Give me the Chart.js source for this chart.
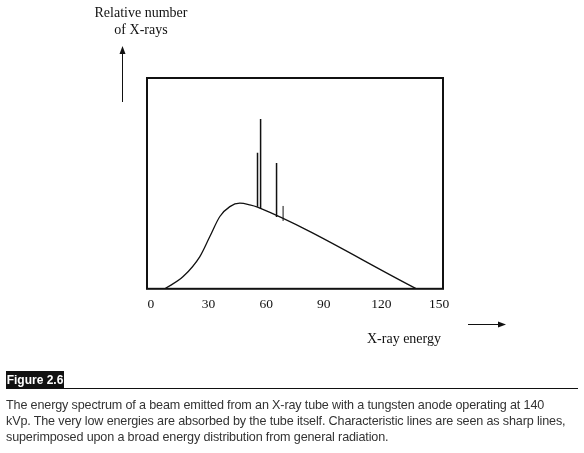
<!DOCTYPE html>
<html>
<head>
<meta charset="utf-8">
<script src="https://cdn.jsdelivr.net/npm/chart.js@4"></script>
<style>
  body { margin: 0; background: #fff; width: 584px; height: 453px; position: relative; overflow: hidden; }
  #wrap { position: absolute; left: 0; top: 0; width: 584px; height: 453px; }
  .serif { position: absolute; font-family: "Liberation Serif", "DejaVu Serif", serif; font-size: 14px; color: #111; }
  .cap { position: absolute; left: 6px; top: 397px; width: 578px; white-space: nowrap; font-family: "Liberation Sans", Arial, sans-serif; font-size: 12.6px; line-height: 16px; color: #333; letter-spacing: -0.15px; }
  .fig { position: absolute; left: 6px; top: 371px; width: 58px; height: 18px; background: #111; color: #fff; font-family: "Liberation Sans Narrow", "Liberation Sans", sans-serif; font-weight: bold; font-size: 12px; line-height: 18px; text-align: center; }
  .rule { position: absolute; left: 6px; top: 388px; width: 572px; height: 1px; background: #111; }
</style>
</head>
<body>
<div id="wrap"><canvas id="spectrum" width="584" height="453"></canvas></div>
<div class="serif" style="left:82px; top:4px; width:118px; text-align:center; line-height:17px;">Relative number<br>of X-rays</div>
<div class="serif" style="left:367px; top:331px;">X-ray energy</div>
<div class="fig">Figure 2.6</div>
<div class="rule"></div>
<div class="cap">The energy spectrum of a beam emitted from an X-ray tube with a tungsten anode operating at 140<br>kVp. The very low energies are absorbed by the tube itself. Characteristic lines are seen as sharp lines,<br>superimposed upon a broad energy distribution from general radiation.</div>
<script>
// continuous (bremsstrahlung) curve
const energies = [7.3, 16.8, 25.5, 30.7, 35.9, 41.1, 46.3, 51.5, 55.5, 138.2];
const counts   = [0, 5.8, 15.3, 24.8, 34.3, 39.0, 40.6, 39.8, 38.7, 0];

// characteristic lines
const lineEnergy = [55.5, 57.1, 65.4, 68.8];
const lineBase   = [38.9, 37.9, 34.1, 32.2];
const lineTop    = [64.5, 80.6, 59.7, 39.3];

const xTicks = [0, 30, 60, 90, 120, 150];

const datasets = [{
  data: energies.map((e, i) => ({ x: e, y: counts[i] })),
  borderColor: '#111',
  borderWidth: 1.3,
  pointRadius: 0,
  cubicInterpolationMode: 'monotone',
  fill: false
}];
lineEnergy.forEach((e, i) => {
  datasets.push({
    data: [{ x: e, y: lineBase[i] }, { x: e, y: lineTop[i] }],
    borderColor: '#111',
    borderWidth: i === 3 ? 1 : 1.5,
    pointRadius: 0
  });
});

const boxAndArrows = {
  id: 'boxAndArrows',
  afterDraw(chart) {
    const { ctx, chartArea: a } = chart;
    ctx.save();
    ctx.strokeStyle = '#111';
    ctx.lineWidth = 2;
    ctx.strokeRect(a.left, a.top, a.right - a.left, a.bottom - a.top);
    ctx.lineWidth = 1;
    // up arrow
    ctx.beginPath(); ctx.moveTo(122.5, 102); ctx.lineTo(122.5, 50); ctx.stroke();
    ctx.beginPath(); ctx.moveTo(122.5, 46); ctx.lineTo(119.5, 54); ctx.lineTo(125.5, 54); ctx.closePath(); ctx.fillStyle = '#111'; ctx.fill();
    // right arrow
    ctx.beginPath(); ctx.moveTo(468, 324.5); ctx.lineTo(502, 324.5); ctx.stroke();
    ctx.beginPath(); ctx.moveTo(506, 324.5); ctx.lineTo(498, 321.5); ctx.lineTo(498, 327.5); ctx.closePath(); ctx.fill();
    ctx.restore();
  }
};

new Chart(document.getElementById('spectrum'), {
  type: 'line',
  data: { datasets },
  options: {
    responsive: false,
    animation: false,
    layout: { padding: { left: 147, right: 141, top: 78, bottom: 140 } },
    plugins: { legend: { display: false }, tooltip: { enabled: false } },
    scales: {
      x: {
        type: 'linear',
        min: -2, max: 152,
        afterBuildTicks: s => { s.ticks = xTicks.map(v => ({ value: v })); },
        grid: { display: false },
        border: { display: false },
        ticks: { color: '#111', padding: 0, maxRotation: 0, font: { family: '"Liberation Serif", serif', size: 13.5 } }
      },
      y: {
        display: false,
        min: 0, max: 100
      }
    }
  },
  plugins: [boxAndArrows]
});
</script>
</body>
</html>
